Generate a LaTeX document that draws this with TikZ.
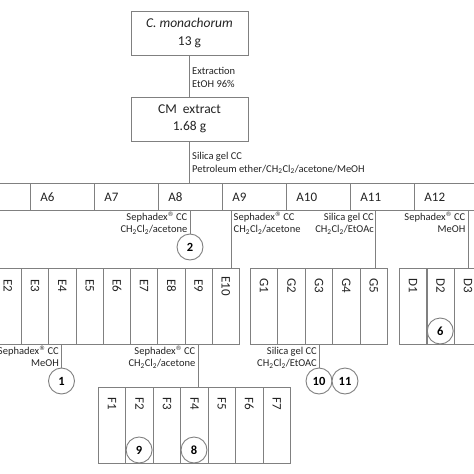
\documentclass[tikz,border=0pt]{standalone}
\usepackage{fontspec}
\setmainfont{Carlito}
\newfontfamily\regfont{DejaVu Sans}
\usetikzlibrary{calc}
\definecolor{ln}{RGB}{128,128,128}
\definecolor{tx}{RGB}{35,35,35}
\newcommand{\regmark}{\raisebox{0.32em}{\regfont\fontsize{6}{6}\selectfont ®}}
\begin{document}
\begin{tikzpicture}[x=1pt,y=-1pt,
  line/.style={draw=ln, line width=0.9pt},
  bigbox/.style={line, rectangle, minimum width=117pt, minimum height=44pt, align=center, font=\fontsize{13.5}{17.5}\selectfont, inner sep=0pt, text=tx},
  acell/.style={line, rectangle, minimum width=64pt, minimum height=27pt, text width=44pt, inner xsep=10pt, inner ysep=0pt, align=left, anchor=north west, font=\fontsize{13}{15}\selectfont, text=tx},
  vcell/.style={line, rectangle, minimum width=27.4pt, minimum height=76pt, inner sep=0pt, anchor=north west},
  vtext/.style={rotate=-90, font=\fontsize{13}{15}\selectfont, inner sep=0pt, text=tx},
  note/.style={font=\fontsize{10.5}{12.2}\selectfont, inner sep=0pt, text=tx},
  notel/.style={note, align=left, anchor=base west},
  noter/.style={note, align=right, anchor=base east},
  num/.style={line, circle, minimum size=26pt, inner sep=0pt, fill=white, text=black, font=\fontsize{12.5}{14}\selectfont\bfseries}
]
\useasboundingbox (0,0) rectangle (474,474);
\clip (0,0) rectangle (474,474);

% top boxes
\node[bigbox] (cmon) at (189.5,33) {\textit{C. monachorum}\\13 g};
\node[bigbox] (cm) at (189.5,119) {CM~ extract\\1.68 g};

% row A
\node[acell] (A5) at (-34,183) {};
\foreach \i in {6,...,12}{
  \pgfmathsetmacro\xx{30+64*(\i-6)}
  \node[acell] (A\i) at (\xx,183) {A\i};
}

% row E
\foreach \i in {2,...,10}{
  \pgfmathsetmacro\xx{21+27.25*(\i-3)}
  \node[vcell] (E\i) at (\xx,268) {};
  \node[vtext] (tE\i) at ($(E\i.north)+(0,18)$) {E\i};
}
% row G
\foreach \i in {1,...,5}{
  \pgfmathsetmacro\xx{250+27.4*(\i-1)}
  \node[vcell] (G\i) at (\xx,268) {};
  \node[vtext] (tG\i) at ($(G\i.north)+(0,18)$) {G\i};
}
% row D
\foreach \i in {1,...,3}{
  \pgfmathsetmacro\xx{399+27.5*(\i-1)}
  \node[vcell] (D\i) at (\xx,268) {};
  \node[vtext] (tD\i) at ($(D\i.north)+(0,18)$) {D\i};
}
% row F
\foreach \i in {1,...,7}{
  \pgfmathsetmacro\xx{98+27.43*(\i-1)}
  \node[vcell] (F\i) at (\xx,387) {};
  \node[vtext] (tF\i) at ($(F\i.north)+(0,17)$) {F\i};
}

% connectors
\draw[line] (cmon.south) -- (cm.north);
\draw[line] (cm.south) -- (cm.south |- A8.north);
\node[notel] (n1) at (192,87) {Extraction\\EtOH 96\%};
\node[notel] (n2) at (192,172) {Silica gel CC\\Petroleum ether/CH\textsubscript{2}Cl\textsubscript{2}/acetone/MeOH};

% compounds
\node[num] (c2) at (190,247) {2};
\node[num] (c1) at (61.5,381) {1};
\node[num] (c10) at (319,381) {10};
\node[num] (c11) at (345,381) {11};
\node[num] (c6) at (440.25,331) {6};
\node[num] (c9) at (139.1,450) {9};
\node[num] (c8) at (194,450) {8};

\draw[line] (A8.south -| c2.north) -- (c2.north);
\node[noter] (n3) at (187.5,232.5) {Sephadex\regmark{} CC\\CH\textsubscript{2}Cl\textsubscript{2}/acetone};

\draw[line] ([xshift=9.5pt]A9.south west) -- ([xshift=9.5pt]A9.south west |- E10.north);
\node[notel] (n4) at (233.5,232.5) {Sephadex\regmark{} CC\\CH\textsubscript{2}Cl\textsubscript{2}/acetone};

\draw[line] ([xshift=25.5pt]A11.south west) -- ([xshift=25.5pt]A11.south west |- G5.north);
\node[noter] (n5) at (374,232.5) {Silica gel CC\\CH\textsubscript{2}Cl\textsubscript{2}/EtOAc};

\draw[line] (A12.south -| D3.north) -- (D3.north);
\node[noter] (n6) at (465.5,232.5) {Sephadex\regmark{} CC\\MeOH};

\draw[line] (E4.south -| c1.north) -- (c1.north);
\node[noter] (n7) at (59,366.5) {Sephadex\regmark{} CC\\MeOH};

\draw[line] (E9.south) -- (E9.south |- F4.north);
\node[noter] (n8) at (195.5,366.5) {Sephadex\regmark{} CC\\CH\textsubscript{2}Cl\textsubscript{2}/acetone};

\draw[line] (G3.south -| c10.north) -- (c10.north);
\node[noter] (n9) at (317,366.5) {Silica gel CC\\CH\textsubscript{2}Cl\textsubscript{2}/EtOAC};
\end{tikzpicture}
\end{document}
